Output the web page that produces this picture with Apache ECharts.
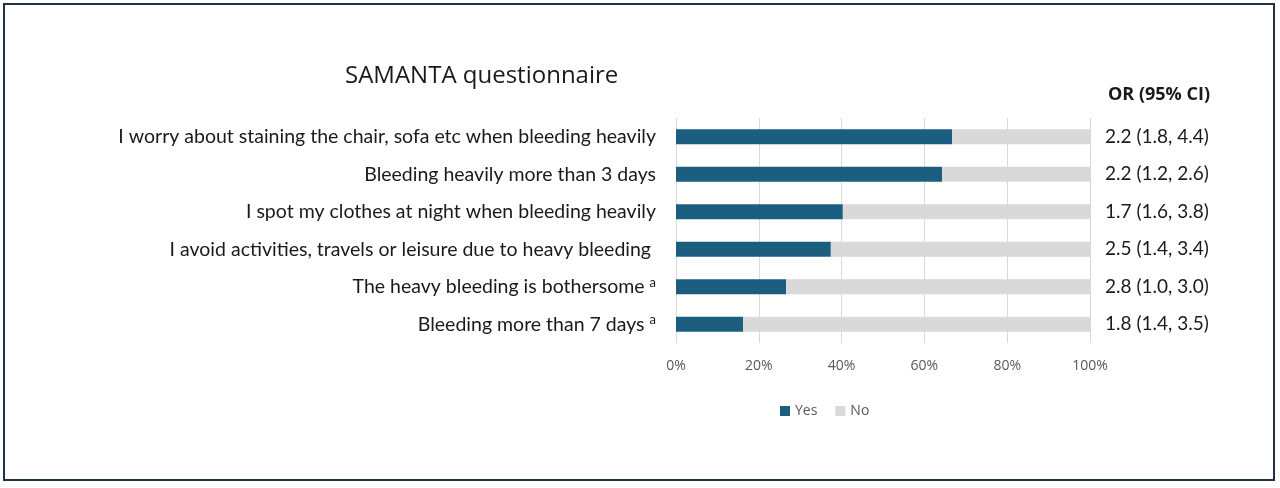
<!DOCTYPE html>
<html><head><meta charset="utf-8">
<script src="https://cdn.jsdelivr.net/npm/echarts@6/dist/echarts.min.js"></script>
<style>html,body{margin:0;padding:0;background:#fff}#c{width:1280px;height:488px}</style>
</head><body><div id="c"></div>
<script>
const categories = [
  "I worry about staining the chair, sofa etc when bleeding heavily",
  "Bleeding heavily more than 3 days",
  "I spot my clothes at night when bleeding heavily",
  "I avoid activities, travels or leisure due to heavy bleeding ",
  "The heavy bleeding is bothersome {sup|a}",
  "Bleeding more than 7 days {sup|a}"
];
const yesValues = [66.7, 64.3, 40.3, 37.4, 26.6, 16.2];
const noValues = yesValues.map(v => +(100 - v).toFixed(1));
const orLabels = ["2.2 (1.8, 4.4)", "2.2 (1.2, 2.6)", "1.7 (1.6, 3.8)", "2.5 (1.4, 3.4)", "2.8 (1.0, 3.0)", "1.8 (1.4, 3.5)"];
const xTicks = [0, 20, 40, 60, 80, 100];

const FONT = "Open Sans";
const FONT2 = "Lato";
const chart = echarts.init(document.getElementById('c'), null, {renderer: 'canvas'});
chart.setOption({
  animation: false,
  textStyle: {fontFamily: FONT},
  title: {
    text: "SAMANTA questionnaire",
    left: 340, top: 59,
    textStyle: {fontFamily: FONT, fontSize: 24, fontWeight: 'normal', color: '#1a1a1a'}
  },
  graphic: [
    {type: 'rect', shape: {x: 4, y: 4, width: 1270, height: 476}, style: {fill: 'none', stroke: '#1e3245', lineWidth: 2}, z: 100},
    {type: 'text', left: 1108, top: 86, style: {text: "OR (95% CI)", fontFamily: FONT, fontSize: 18, fontWeight: 'bold', fill: '#1a1a1a'}}
  ],
  legend: {
    data: ['Yes', 'No'],
    left: 775, top: 399,
    itemWidth: 10, itemHeight: 10, itemGap: 18,
    icon: 'rect',
    textStyle: {fontFamily: FONT, fontSize: 14, color: '#595959'}
  },
  grid: {left: 676, top: 118, width: 414, height: 225, containLabel: false},
  xAxis: {
    type: 'value', min: 0, max: 100, interval: 20,
    axisLabel: {formatter: '{value}%', fontFamily: FONT, fontSize: 14, color: '#595959', margin: 16},
    splitLine: {show: true, lineStyle: {color: '#d9d9d9', width: 1}},
    axisLine: {show: false}, axisTick: {show: false}
  },
  yAxis: [
    {
      type: 'category', data: categories, inverse: true,
      axisLine: {show: false}, axisTick: {show: false},
      axisLabel: {
        fontFamily: FONT2, fontSize: 19.5, color: '#1a1a1a', margin: 20,
        rich: {sup: {fontFamily: FONT2, fontSize: 13, color: '#1a1a1a', verticalAlign: 'top', padding: [0, 0, 8, 0]}}
      }
    },
    {
      type: 'category', data: orLabels, inverse: true, position: 'right',
      axisLine: {show: false}, axisTick: {show: false},
      axisLabel: {fontFamily: FONT2, fontSize: 19, color: '#1a1a1a', margin: 15}
    }
  ],
  series: [
    {name: 'Yes', type: 'bar', stack: 's', data: yesValues, barWidth: 15, itemStyle: {color: '#1b5e80'}, yAxisIndex: 0},
    {name: 'No', type: 'bar', stack: 's', data: noValues, barWidth: 15, itemStyle: {color: '#d9d9d9'}, yAxisIndex: 0}
  ]
});
</script></body></html>
